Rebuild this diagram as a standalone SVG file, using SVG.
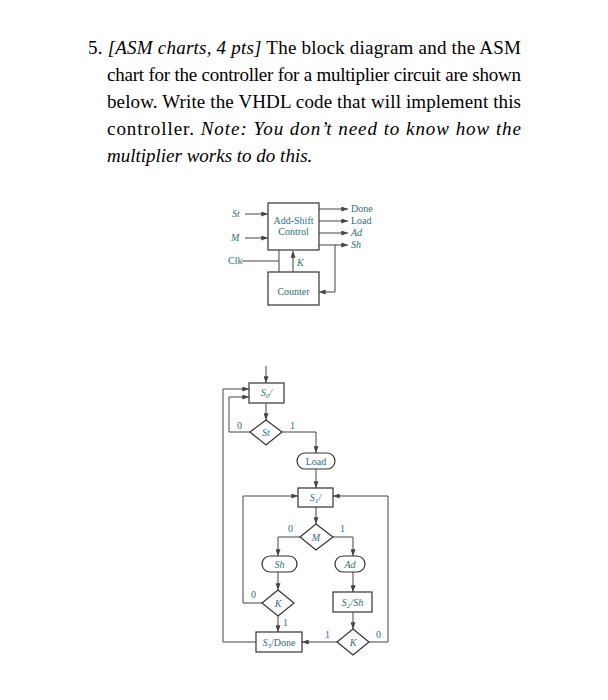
<svg xmlns="http://www.w3.org/2000/svg" width="608" height="700" viewBox="0 0 608 700">
<style>
.h{font-family:"Liberation Serif","Times New Roman",serif;font-size:19px;fill:#000}
.t{font-family:"Liberation Serif",serif;font-size:10px;fill:#2f6f78}
.i{font-style:italic}
.b{fill:#fff;stroke:#333;stroke-width:1.2}
.l{fill:none;stroke:#444;stroke-width:1}
</style>
<defs><marker id="a" viewBox="0 0 8 6" refX="8" refY="3" markerWidth="7" markerHeight="5" orient="auto"><path d="M0,0L8,3L0,6z" fill="#444"/></marker></defs>
<rect width="608" height="700" fill="#fff"/>
<text class="h" x="88" y="54" textLength="433" lengthAdjust="spacing">5. <tspan class="i">[ASM charts, 4 pts]</tspan> The block diagram and the ASM</text>
<text class="h" x="107" y="81" textLength="414" lengthAdjust="spacing">chart for the controller for a multiplier circuit are shown</text>
<text class="h" x="107" y="108" textLength="414" lengthAdjust="spacing">below. Write the VHDL code that will implement this</text>
<text class="h" x="107" y="135" textLength="414" lengthAdjust="spacing">controller.  <tspan class="i">Note: You don’t need to know how the</tspan></text>
<text class="h i" x="107" y="162">multiplier works to do this.</text>

<g id="connectors">
<path class="l" d="M245,214H268" marker-end="url(#a)"/>
<path class="l" d="M245,238H268" marker-end="url(#a)"/>
<path class="l" d="M319,209H348" marker-end="url(#a)"/>
<path class="l" d="M319,221H348" marker-end="url(#a)"/>
<path class="l" d="M319,233H348" marker-end="url(#a)"/>
<path class="l" d="M319,245H348" marker-end="url(#a)"/>
<path class="l" d="M335,245V292H319" marker-end="url(#a)"/>
<path class="l" d="M242,261H279M279,250V272"/>
<path class="l" d="M293,272V251" marker-end="url(#a)"/>
<path class="l" d="M275,250L279,244L283,250M275,272L279,279L283,272"/>

<path class="l" d="M266,366V383" marker-end="url(#a)"/>
<path class="l" d="M266,403V420" marker-end="url(#a)"/>
<path class="l" d="M250,432H229V397H249" marker-end="url(#a)"/>
<path class="l" d="M282,432H316V453" marker-end="url(#a)"/>
<path class="l" d="M316,469V488" marker-end="url(#a)"/>
<path class="l" d="M316,507V524" marker-end="url(#a)"/>
<path class="l" d="M300,537H278V556" marker-end="url(#a)"/>
<path class="l" d="M333,537H353V556" marker-end="url(#a)"/>
<path class="l" d="M278,572V590" marker-end="url(#a)"/>
<path class="l" d="M353,572V592" marker-end="url(#a)"/>
<path class="l" d="M278,616V632" marker-end="url(#a)"/>
<path class="l" d="M353,612V629" marker-end="url(#a)"/>
<path class="l" d="M262,603H243V496H298" marker-end="url(#a)"/>
<path class="l" d="M369,642H388V496H333" marker-end="url(#a)"/>
<path class="l" d="M337,642H302" marker-end="url(#a)"/>
<path class="l" d="M256,642H223V389H249" marker-end="url(#a)"/>
</g>

<g id="asc"><rect class="b" x="268" y="203" width="51" height="47"/><text class="t" x="293.5" y="224" text-anchor="middle">Add-Shift</text><text class="t" x="293.5" y="235" text-anchor="middle">Control</text></g>
<g id="counter"><rect class="b" x="268" y="272" width="51" height="33"/><text class="t" x="293.5" y="295" text-anchor="middle">Counter</text></g>
<g id="sigs">
<text class="t i" x="232" y="217">St</text><text class="t i" x="231" y="241">M</text><text class="t" x="228" y="264">Clk</text>
<text class="t" x="351" y="212">Done</text><text class="t" x="351" y="224">Load</text><text class="t i" x="351" y="236">Ad</text><text class="t i" x="351" y="248">Sh</text>
<text class="t i" x="297" y="266">K</text>
</g>

<g id="s0"><rect class="b" x="249" y="383" width="35" height="20"/><text class="t i" x="266.5" y="396" text-anchor="middle">S<tspan font-size="7" dy="2">0</tspan><tspan dy="-2">/</tspan></text></g>
<g id="dst"><path class="b" d="M266,420L282,432L266,445L250,432z"/><text class="t i" x="266" y="436" text-anchor="middle">St</text><text class="t" x="237" y="429">0</text><text class="t" x="290" y="429">1</text></g>
<g id="load"><rect class="b" x="297" y="453" width="38" height="16" rx="8"/><text class="t" x="316" y="465" text-anchor="middle">Load</text></g>
<g id="s1"><rect class="b" x="298" y="488" width="35" height="19"/><text class="t i" x="315.5" y="501" text-anchor="middle">S<tspan font-size="7" dy="2">1</tspan><tspan dy="-2">/</tspan></text></g>
<g id="dm"><path class="b" d="M316,524L333,537L316,550L300,537z"/><text class="t i" x="316" y="541" text-anchor="middle">M</text><text class="t" x="288" y="532">0</text><text class="t" x="340" y="532">1</text></g>
<g id="sh"><rect class="b" x="262" y="556" width="35" height="16" rx="8"/><text class="t i" x="279.5" y="568" text-anchor="middle">Sh</text></g>
<g id="ad"><rect class="b" x="335" y="556" width="30" height="16" rx="8"/><text class="t i" x="350" y="568" text-anchor="middle">Ad</text></g>
<g id="dk1"><path class="b" d="M278,590L294,603L278,616L262,603z"/><text class="t i" x="278" y="607" text-anchor="middle">K</text><text class="t" x="251" y="598">0</text><text class="t" x="283" y="626">1</text></g>
<g id="s2"><rect class="b" x="333" y="592" width="39" height="20"/><text class="t i" x="352.5" y="606" text-anchor="middle">S<tspan font-size="7" dy="2">2</tspan><tspan dy="-2">/Sh</tspan></text></g>
<g id="dk2"><path class="b" d="M353,629L369,642L353,655L337,642z"/><text class="t i" x="353" y="646" text-anchor="middle">K</text><text class="t" x="325" y="638">1</text><text class="t" x="376" y="638">0</text></g>
<g id="s3"><rect class="b" x="256" y="632" width="46" height="20"/><text class="t" x="279" y="646" text-anchor="middle"><tspan class="i">S</tspan><tspan font-size="7" dy="2">3</tspan><tspan dy="-2">/Done</tspan></text></g>
</svg>
